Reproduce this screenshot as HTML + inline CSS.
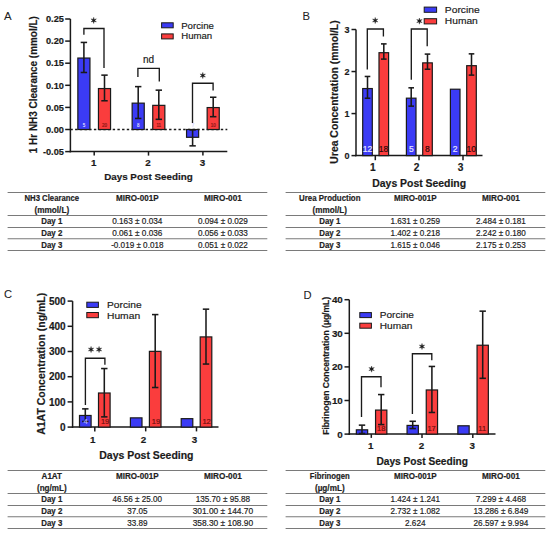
<!DOCTYPE html>
<html><head><meta charset="utf-8"><style>
html,body{margin:0;padding:0;background:#fff;}
body{width:550px;height:535px;overflow:hidden;}
svg{display:block;font-family:"Liberation Sans",sans-serif;}
</style></head><body>
<svg width="550" height="535" viewBox="0 0 550 535">
<rect width="550" height="535" fill="#fff"/>
<line x1="70.4" y1="19.0" x2="70.4" y2="152.35" stroke="#1a1a1a" stroke-width="1.5"/>
<line x1="69.65" y1="151.6" x2="227.3" y2="151.6" stroke="#1a1a1a" stroke-width="1.5"/>
<line x1="65.2" y1="19.0" x2="70.4" y2="19.0" stroke="#1a1a1a" stroke-width="1.5"/>
<text x="63.9" y="22.2" font-size="9.2" font-weight="bold" text-anchor="end" fill="#1a1a1a" stroke="#1a1a1a" stroke-width="0.18">0.25</text>
<line x1="65.2" y1="41.099999999999994" x2="70.4" y2="41.099999999999994" stroke="#1a1a1a" stroke-width="1.5"/>
<text x="63.9" y="44.3" font-size="9.2" font-weight="bold" text-anchor="end" fill="#1a1a1a" stroke="#1a1a1a" stroke-width="0.18">0.20</text>
<line x1="65.2" y1="63.2" x2="70.4" y2="63.2" stroke="#1a1a1a" stroke-width="1.5"/>
<text x="63.9" y="66.4" font-size="9.2" font-weight="bold" text-anchor="end" fill="#1a1a1a" stroke="#1a1a1a" stroke-width="0.18">0.15</text>
<line x1="65.2" y1="85.3" x2="70.4" y2="85.3" stroke="#1a1a1a" stroke-width="1.5"/>
<text x="63.9" y="88.5" font-size="9.2" font-weight="bold" text-anchor="end" fill="#1a1a1a" stroke="#1a1a1a" stroke-width="0.18">0.10</text>
<line x1="65.2" y1="107.4" x2="70.4" y2="107.4" stroke="#1a1a1a" stroke-width="1.5"/>
<text x="63.9" y="110.60000000000001" font-size="9.2" font-weight="bold" text-anchor="end" fill="#1a1a1a" stroke="#1a1a1a" stroke-width="0.18">0.05</text>
<line x1="65.2" y1="129.5" x2="70.4" y2="129.5" stroke="#1a1a1a" stroke-width="1.5"/>
<text x="63.9" y="132.7" font-size="9.2" font-weight="bold" text-anchor="end" fill="#1a1a1a" stroke="#1a1a1a" stroke-width="0.18">0.00</text>
<line x1="65.2" y1="151.6" x2="70.4" y2="151.6" stroke="#1a1a1a" stroke-width="1.5"/>
<text x="63.9" y="154.79999999999998" font-size="9.2" font-weight="bold" text-anchor="end" fill="#1a1a1a" stroke="#1a1a1a" stroke-width="0.18">-0.05</text>
<line x1="94.2" y1="151.6" x2="94.2" y2="155.6" stroke="#1a1a1a" stroke-width="1.5"/>
<text x="93.7" y="166.4" font-size="9.8" font-weight="bold" text-anchor="middle" fill="#1a1a1a" stroke="#1a1a1a" stroke-width="0.18">1</text>
<line x1="148.5" y1="151.6" x2="148.5" y2="155.6" stroke="#1a1a1a" stroke-width="1.5"/>
<text x="148.0" y="166.4" font-size="9.8" font-weight="bold" text-anchor="middle" fill="#1a1a1a" stroke="#1a1a1a" stroke-width="0.18">2</text>
<line x1="202.9" y1="151.6" x2="202.9" y2="155.6" stroke="#1a1a1a" stroke-width="1.5"/>
<text x="202.4" y="166.4" font-size="9.8" font-weight="bold" text-anchor="middle" fill="#1a1a1a" stroke="#1a1a1a" stroke-width="0.18">3</text>
<line x1="70.4" y1="129.5" x2="227.3" y2="129.5" stroke="#1a1a1a" stroke-width="1.3" stroke-dasharray="2.4 2.3"/>
<rect x="77.85" y="58.05" width="12.10" height="71.45" fill="#3b3bf5" stroke="#1a1a1a" stroke-width="1.2"/>
<line x1="83.9" y1="42.426" x2="83.9" y2="72.482" stroke="#1a1a1a" stroke-width="1.55"/>
<line x1="80.7" y1="42.426" x2="87.10000000000001" y2="42.426" stroke="#1a1a1a" stroke-width="1.55"/>
<line x1="80.7" y1="72.482" x2="87.10000000000001" y2="72.482" stroke="#1a1a1a" stroke-width="1.55"/>
<rect x="98.45" y="88.55" width="12.10" height="40.95" fill="#fa3d3d" stroke="#1a1a1a" stroke-width="1.2"/>
<line x1="104.5" y1="75.134" x2="104.5" y2="100.77" stroke="#1a1a1a" stroke-width="1.55"/>
<line x1="101.3" y1="75.134" x2="107.7" y2="75.134" stroke="#1a1a1a" stroke-width="1.55"/>
<line x1="101.3" y1="100.77" x2="107.7" y2="100.77" stroke="#1a1a1a" stroke-width="1.55"/>
<rect x="132.15" y="103.14" width="12.10" height="26.36" fill="#3b3bf5" stroke="#1a1a1a" stroke-width="1.2"/>
<line x1="138.2" y1="86.626" x2="138.2" y2="118.45" stroke="#1a1a1a" stroke-width="1.55"/>
<line x1="135.0" y1="86.626" x2="141.39999999999998" y2="86.626" stroke="#1a1a1a" stroke-width="1.55"/>
<line x1="135.0" y1="118.45" x2="141.39999999999998" y2="118.45" stroke="#1a1a1a" stroke-width="1.55"/>
<rect x="152.75" y="105.35" width="12.10" height="24.15" fill="#fa3d3d" stroke="#1a1a1a" stroke-width="1.2"/>
<line x1="158.8" y1="90.162" x2="158.8" y2="119.334" stroke="#1a1a1a" stroke-width="1.55"/>
<line x1="155.60000000000002" y1="90.162" x2="162.0" y2="90.162" stroke="#1a1a1a" stroke-width="1.55"/>
<line x1="155.60000000000002" y1="119.334" x2="162.0" y2="119.334" stroke="#1a1a1a" stroke-width="1.55"/>
<rect x="186.55" y="129.50" width="12.10" height="7.80" fill="#3b3bf5" stroke="#1a1a1a" stroke-width="1.2"/>
<line x1="192.6" y1="129.942" x2="192.6" y2="145.85399999999998" stroke="#1a1a1a" stroke-width="1.55"/>
<line x1="189.4" y1="129.942" x2="195.79999999999998" y2="129.942" stroke="#1a1a1a" stroke-width="1.55"/>
<line x1="189.4" y1="145.85399999999998" x2="195.79999999999998" y2="145.85399999999998" stroke="#1a1a1a" stroke-width="1.55"/>
<rect x="207.15" y="107.56" width="12.10" height="21.94" fill="#fa3d3d" stroke="#1a1a1a" stroke-width="1.2"/>
<line x1="213.20000000000002" y1="97.23400000000001" x2="213.20000000000002" y2="116.682" stroke="#1a1a1a" stroke-width="1.55"/>
<line x1="210.00000000000003" y1="97.23400000000001" x2="216.4" y2="97.23400000000001" stroke="#1a1a1a" stroke-width="1.55"/>
<line x1="210.00000000000003" y1="116.682" x2="216.4" y2="116.682" stroke="#1a1a1a" stroke-width="1.55"/>
<text x="83.9" y="127.0" font-size="4.5" font-weight="normal" text-anchor="middle" fill="#d8d8ff" stroke="#d8d8ff" stroke-width="0.18">5</text>
<text x="104.5" y="127.0" font-size="4.5" font-weight="normal" text-anchor="middle" fill="#8a1515" stroke="#8a1515" stroke-width="0.18">20</text>
<text x="138.2" y="127.0" font-size="4.5" font-weight="normal" text-anchor="middle" fill="#d8d8ff" stroke="#d8d8ff" stroke-width="0.18">8</text>
<text x="158.8" y="127.0" font-size="4.5" font-weight="normal" text-anchor="middle" fill="#8a1515" stroke="#8a1515" stroke-width="0.18">11</text>
<text x="193.1" y="127.0" font-size="4.5" font-weight="normal" text-anchor="middle" fill="#d8d8ff" stroke="#d8d8ff" stroke-width="0.18">7</text>
<text x="213.3" y="127.0" font-size="4.5" font-weight="normal" text-anchor="middle" fill="#8a1515" stroke="#8a1515" stroke-width="0.18">10</text>
<polyline points="83.9,34.8 83.9,28.5 104.0,28.5 104.0,68.0" fill="none" stroke="#1a1a1a" stroke-width="1.35"/>
<polyline points="137.9,76.9 137.9,68.4 159.3,68.4 159.3,81.4" fill="none" stroke="#1a1a1a" stroke-width="1.35"/>
<polyline points="192.5,122.9 192.5,83.2 213.1,83.2 213.1,90.4" fill="none" stroke="#1a1a1a" stroke-width="1.35"/>
<polygon points="93.70,17.30 93.12,19.40 91.02,18.85 92.55,20.40 91.02,21.95 93.12,21.40 93.70,23.50 94.28,21.40 96.38,21.95 94.85,20.40 96.38,18.85 94.28,19.40" fill="#1a1a1a" stroke="#1a1a1a" stroke-width="0.35" stroke-linejoin="round"/>
<text x="148.5" y="63.0" font-size="10" font-weight="normal" text-anchor="middle" fill="#1a1a1a" stroke="#1a1a1a" stroke-width="0.18">nd</text>
<polygon points="202.80,72.40 202.23,74.50 200.12,73.95 201.65,75.50 200.12,77.05 202.23,76.50 202.80,78.60 203.38,76.50 205.48,77.05 203.95,75.50 205.48,73.95 203.38,74.50" fill="#1a1a1a" stroke="#1a1a1a" stroke-width="0.35" stroke-linejoin="round"/>
<rect x="161.6" y="22.8" width="11.6" height="5.0" fill="#3b3bf5" stroke="#1a1a1a" stroke-width="1"/>
<text x="181.2" y="28.5" font-size="9.7" font-weight="normal" text-anchor="start" fill="#1a1a1a" textLength="32.7" lengthAdjust="spacingAndGlyphs" stroke="#1a1a1a" stroke-width="0.18">Porcine</text>
<rect x="161.6" y="33.9" width="11.6" height="5.0" fill="#fa3d3d" stroke="#1a1a1a" stroke-width="1"/>
<text x="181.2" y="39.1" font-size="9.7" font-weight="normal" text-anchor="start" fill="#1a1a1a" textLength="31.0" lengthAdjust="spacingAndGlyphs" stroke="#1a1a1a" stroke-width="0.18">Human</text>
<text x="148.4" y="179.7" font-size="9.8" font-weight="bold" text-anchor="middle" fill="#1a1a1a" textLength="88.5" lengthAdjust="spacingAndGlyphs" stroke="#1a1a1a" stroke-width="0.18">Days Post Seeding</text>
<text x="37.3" y="84.7" font-size="10.2" font-weight="bold" text-anchor="middle" fill="#1a1a1a" textLength="137.0" lengthAdjust="spacingAndGlyphs" transform="rotate(-90 37.3 84.7)" stroke="#1a1a1a" stroke-width="0.18">1 Hr NH3 Clearance (mmol/L)</text>
<text x="4.0" y="19.9" font-size="11.4" font-weight="normal" text-anchor="start" fill="#222" stroke="#222" stroke-width="0.05">A</text>
<line x1="356.0" y1="29.50999999999999" x2="356.0" y2="156.35" stroke="#1a1a1a" stroke-width="1.5"/>
<line x1="355.25" y1="155.6" x2="482.5" y2="155.6" stroke="#1a1a1a" stroke-width="1.5"/>
<line x1="351.5" y1="29.50999999999999" x2="356.0" y2="29.50999999999999" stroke="#1a1a1a" stroke-width="1.5"/>
<text x="349.5" y="32.709999999999994" font-size="9.0" font-weight="bold" text-anchor="end" fill="#1a1a1a" stroke="#1a1a1a" stroke-width="0.18">3</text>
<line x1="351.5" y1="71.53999999999999" x2="356.0" y2="71.53999999999999" stroke="#1a1a1a" stroke-width="1.5"/>
<text x="349.5" y="74.74" font-size="9.0" font-weight="bold" text-anchor="end" fill="#1a1a1a" stroke="#1a1a1a" stroke-width="0.18">2</text>
<line x1="351.5" y1="113.57" x2="356.0" y2="113.57" stroke="#1a1a1a" stroke-width="1.5"/>
<text x="349.5" y="116.77" font-size="9.0" font-weight="bold" text-anchor="end" fill="#1a1a1a" stroke="#1a1a1a" stroke-width="0.18">1</text>
<line x1="351.5" y1="155.6" x2="356.0" y2="155.6" stroke="#1a1a1a" stroke-width="1.5"/>
<text x="349.5" y="158.79999999999998" font-size="9.0" font-weight="bold" text-anchor="end" fill="#1a1a1a" stroke="#1a1a1a" stroke-width="0.18">0</text>
<line x1="375.3" y1="155.6" x2="375.3" y2="160.2" stroke="#1a1a1a" stroke-width="1.5"/>
<text x="372.90000000000003" y="171.4" font-size="10.2" font-weight="bold" text-anchor="middle" fill="#1a1a1a" stroke="#1a1a1a" stroke-width="0.18">1</text>
<line x1="419.0" y1="155.6" x2="419.0" y2="160.2" stroke="#1a1a1a" stroke-width="1.5"/>
<text x="416.6" y="171.4" font-size="10.2" font-weight="bold" text-anchor="middle" fill="#1a1a1a" stroke="#1a1a1a" stroke-width="0.18">2</text>
<line x1="463.0" y1="155.6" x2="463.0" y2="160.2" stroke="#1a1a1a" stroke-width="1.5"/>
<text x="460.6" y="171.4" font-size="10.2" font-weight="bold" text-anchor="middle" fill="#1a1a1a" stroke="#1a1a1a" stroke-width="0.18">3</text>
<rect x="362.70" y="88.55" width="9.60" height="67.05" fill="#3b3bf5" stroke="#1a1a1a" stroke-width="1.2"/>
<line x1="367.5" y1="76.46329999999999" x2="367.5" y2="98.23483999999999" stroke="#1a1a1a" stroke-width="1.55"/>
<line x1="364.7" y1="76.46329999999999" x2="370.3" y2="76.46329999999999" stroke="#1a1a1a" stroke-width="1.55"/>
<line x1="364.7" y1="98.23483999999999" x2="370.3" y2="98.23483999999999" stroke="#1a1a1a" stroke-width="1.55"/>
<rect x="379.00" y="52.70" width="9.60" height="102.90" fill="#fa3d3d" stroke="#1a1a1a" stroke-width="1.2"/>
<line x1="383.8" y1="43.89004999999999" x2="383.8" y2="59.10490999999999" stroke="#1a1a1a" stroke-width="1.55"/>
<line x1="381.0" y1="43.89004999999999" x2="386.6" y2="43.89004999999999" stroke="#1a1a1a" stroke-width="1.55"/>
<line x1="381.0" y1="59.10490999999999" x2="386.6" y2="59.10490999999999" stroke="#1a1a1a" stroke-width="1.55"/>
<rect x="406.40" y="98.17" width="9.60" height="57.43" fill="#3b3bf5" stroke="#1a1a1a" stroke-width="1.2"/>
<line x1="411.2" y1="87.81139999999999" x2="411.2" y2="106.13647999999999" stroke="#1a1a1a" stroke-width="1.55"/>
<line x1="408.4" y1="87.81139999999999" x2="414.0" y2="87.81139999999999" stroke="#1a1a1a" stroke-width="1.55"/>
<line x1="408.4" y1="106.13647999999999" x2="414.0" y2="106.13647999999999" stroke="#1a1a1a" stroke-width="1.55"/>
<rect x="422.70" y="62.87" width="9.60" height="92.73" fill="#fa3d3d" stroke="#1a1a1a" stroke-width="1.2"/>
<line x1="427.5" y1="54.10333999999999" x2="427.5" y2="69.23414" stroke="#1a1a1a" stroke-width="1.55"/>
<line x1="424.7" y1="54.10333999999999" x2="430.3" y2="54.10333999999999" stroke="#1a1a1a" stroke-width="1.55"/>
<line x1="424.7" y1="69.23414" x2="430.3" y2="69.23414" stroke="#1a1a1a" stroke-width="1.55"/>
<rect x="450.40" y="89.22" width="9.60" height="66.38" fill="#3b3bf5" stroke="#1a1a1a" stroke-width="1.2"/>
<rect x="466.70" y="65.68" width="9.60" height="89.92" fill="#fa3d3d" stroke="#1a1a1a" stroke-width="1.2"/>
<line x1="471.5" y1="53.85115999999999" x2="471.5" y2="75.11834" stroke="#1a1a1a" stroke-width="1.55"/>
<line x1="468.7" y1="53.85115999999999" x2="474.3" y2="53.85115999999999" stroke="#1a1a1a" stroke-width="1.55"/>
<line x1="468.7" y1="75.11834" x2="474.3" y2="75.11834" stroke="#1a1a1a" stroke-width="1.55"/>
<text x="367.4" y="151.8" font-size="8.5" font-weight="normal" text-anchor="middle" fill="#e6e6ff" stroke="#e6e6ff" stroke-width="0.18">12</text>
<text x="383.6" y="151.8" font-size="8.5" font-weight="normal" text-anchor="middle" fill="#2a0606" stroke="#2a0606" stroke-width="0.18">18</text>
<text x="411.3" y="151.8" font-size="8.5" font-weight="normal" text-anchor="middle" fill="#e6e6ff" stroke="#e6e6ff" stroke-width="0.18">5</text>
<text x="427.4" y="151.8" font-size="8.5" font-weight="normal" text-anchor="middle" fill="#2a0606" stroke="#2a0606" stroke-width="0.18">8</text>
<text x="455.0" y="151.8" font-size="8.5" font-weight="normal" text-anchor="middle" fill="#e6e6ff" stroke="#e6e6ff" stroke-width="0.18">2</text>
<text x="471.2" y="151.8" font-size="8.5" font-weight="normal" text-anchor="middle" fill="#2a0606" stroke="#2a0606" stroke-width="0.18">10</text>
<polyline points="367.3,69.4 367.3,29.0 383.4,29.0 383.4,36.5" fill="none" stroke="#1a1a1a" stroke-width="1.35"/>
<polyline points="411.3,79.8 411.3,29.0 427.2,29.0 427.2,46.3" fill="none" stroke="#1a1a1a" stroke-width="1.35"/>
<polygon points="375.20,17.40 374.62,19.50 372.52,18.95 374.05,20.50 372.52,22.05 374.62,21.50 375.20,23.60 375.77,21.50 377.88,22.05 376.35,20.50 377.88,18.95 375.77,19.50" fill="#1a1a1a" stroke="#1a1a1a" stroke-width="0.35" stroke-linejoin="round"/>
<polygon points="419.40,18.00 418.82,20.10 416.72,19.55 418.25,21.10 416.72,22.65 418.82,22.10 419.40,24.20 419.97,22.10 422.08,22.65 420.55,21.10 422.08,19.55 419.97,20.10" fill="#1a1a1a" stroke="#1a1a1a" stroke-width="0.35" stroke-linejoin="round"/>
<rect x="424.2" y="7.1" width="12.4" height="5.2" fill="#3b3bf5" stroke="#1a1a1a" stroke-width="1"/>
<text x="444.8" y="12.8" font-size="9.7" font-weight="normal" text-anchor="start" fill="#1a1a1a" textLength="34.9" lengthAdjust="spacingAndGlyphs" stroke="#1a1a1a" stroke-width="0.18">Porcine</text>
<rect x="424.2" y="18.7" width="12.4" height="5.2" fill="#fa3d3d" stroke="#1a1a1a" stroke-width="1"/>
<text x="444.8" y="24.0" font-size="9.7" font-weight="normal" text-anchor="start" fill="#1a1a1a" textLength="33.0" lengthAdjust="spacingAndGlyphs" stroke="#1a1a1a" stroke-width="0.18">Human</text>
<text x="419.2" y="187.1" font-size="10.4" font-weight="bold" text-anchor="middle" fill="#1a1a1a" textLength="93.8" lengthAdjust="spacingAndGlyphs" stroke="#1a1a1a" stroke-width="0.18">Days Post Seeding</text>
<text x="338.4" y="92.0" font-size="10.2" font-weight="bold" text-anchor="middle" fill="#1a1a1a" textLength="143.3" lengthAdjust="spacingAndGlyphs" transform="rotate(-90 338.4 92.0)" stroke="#1a1a1a" stroke-width="0.18">Urea Concentration (mmol/L)</text>
<text x="302.6" y="19.9" font-size="11.2" font-weight="normal" text-anchor="start" fill="#222" stroke="#222" stroke-width="0.05">B</text>
<line x1="72.6" y1="301.1" x2="72.6" y2="427.85" stroke="#1a1a1a" stroke-width="1.5"/>
<line x1="71.85" y1="427.1" x2="218.5" y2="427.1" stroke="#1a1a1a" stroke-width="1.5"/>
<line x1="67.6" y1="301.1" x2="72.6" y2="301.1" stroke="#1a1a1a" stroke-width="1.5"/>
<text x="65.6" y="304.70000000000005" font-size="10.0" font-weight="bold" text-anchor="end" fill="#1a1a1a" stroke="#1a1a1a" stroke-width="0.18">500</text>
<line x1="67.6" y1="326.3" x2="72.6" y2="326.3" stroke="#1a1a1a" stroke-width="1.5"/>
<text x="65.6" y="329.90000000000003" font-size="10.0" font-weight="bold" text-anchor="end" fill="#1a1a1a" stroke="#1a1a1a" stroke-width="0.18">400</text>
<line x1="67.6" y1="351.5" x2="72.6" y2="351.5" stroke="#1a1a1a" stroke-width="1.5"/>
<text x="65.6" y="355.1" font-size="10.0" font-weight="bold" text-anchor="end" fill="#1a1a1a" stroke="#1a1a1a" stroke-width="0.18">300</text>
<line x1="67.6" y1="376.70000000000005" x2="72.6" y2="376.70000000000005" stroke="#1a1a1a" stroke-width="1.5"/>
<text x="65.6" y="380.30000000000007" font-size="10.0" font-weight="bold" text-anchor="end" fill="#1a1a1a" stroke="#1a1a1a" stroke-width="0.18">200</text>
<line x1="67.6" y1="401.90000000000003" x2="72.6" y2="401.90000000000003" stroke="#1a1a1a" stroke-width="1.5"/>
<text x="65.6" y="405.50000000000006" font-size="10.0" font-weight="bold" text-anchor="end" fill="#1a1a1a" stroke="#1a1a1a" stroke-width="0.18">100</text>
<line x1="67.6" y1="427.1" x2="72.6" y2="427.1" stroke="#1a1a1a" stroke-width="1.5"/>
<text x="65.6" y="430.70000000000005" font-size="10.0" font-weight="bold" text-anchor="end" fill="#1a1a1a" stroke="#1a1a1a" stroke-width="0.18">0</text>
<line x1="94.8" y1="427.1" x2="94.8" y2="431.40000000000003" stroke="#1a1a1a" stroke-width="1.5"/>
<text x="92.7" y="442.9" font-size="9.8" font-weight="bold" text-anchor="middle" fill="#1a1a1a" stroke="#1a1a1a" stroke-width="0.18">1</text>
<line x1="145.7" y1="427.1" x2="145.7" y2="431.40000000000003" stroke="#1a1a1a" stroke-width="1.5"/>
<text x="143.6" y="442.9" font-size="9.8" font-weight="bold" text-anchor="middle" fill="#1a1a1a" stroke="#1a1a1a" stroke-width="0.18">2</text>
<line x1="196.5" y1="427.1" x2="196.5" y2="431.40000000000003" stroke="#1a1a1a" stroke-width="1.5"/>
<text x="194.4" y="442.9" font-size="9.8" font-weight="bold" text-anchor="middle" fill="#1a1a1a" stroke="#1a1a1a" stroke-width="0.18">3</text>
<rect x="79.50" y="415.47" width="11.60" height="11.63" fill="#3b3bf5" stroke="#1a1a1a" stroke-width="1.2"/>
<line x1="85.3" y1="408.86688000000004" x2="85.3" y2="421.46688000000006" stroke="#1a1a1a" stroke-width="1.55"/>
<line x1="82.1" y1="408.86688000000004" x2="88.5" y2="408.86688000000004" stroke="#1a1a1a" stroke-width="1.55"/>
<line x1="82.1" y1="421.46688000000006" x2="88.5" y2="421.46688000000006" stroke="#1a1a1a" stroke-width="1.55"/>
<rect x="98.50" y="393.00" width="11.60" height="34.10" fill="#fa3d3d" stroke="#1a1a1a" stroke-width="1.2"/>
<line x1="104.3" y1="368.54184000000004" x2="104.3" y2="416.86536" stroke="#1a1a1a" stroke-width="1.55"/>
<line x1="101.1" y1="368.54184000000004" x2="107.5" y2="368.54184000000004" stroke="#1a1a1a" stroke-width="1.55"/>
<line x1="101.1" y1="416.86536" x2="107.5" y2="416.86536" stroke="#1a1a1a" stroke-width="1.55"/>
<rect x="130.40" y="417.86" width="11.60" height="9.24" fill="#3b3bf5" stroke="#1a1a1a" stroke-width="1.2"/>
<rect x="149.40" y="351.35" width="11.60" height="75.75" fill="#fa3d3d" stroke="#1a1a1a" stroke-width="1.2"/>
<line x1="155.2" y1="314.58360000000005" x2="155.2" y2="387.5124" stroke="#1a1a1a" stroke-width="1.55"/>
<line x1="152.0" y1="314.58360000000005" x2="158.39999999999998" y2="314.58360000000005" stroke="#1a1a1a" stroke-width="1.55"/>
<line x1="152.0" y1="387.5124" x2="158.39999999999998" y2="387.5124" stroke="#1a1a1a" stroke-width="1.55"/>
<rect x="181.20" y="418.66" width="11.60" height="8.44" fill="#3b3bf5" stroke="#1a1a1a" stroke-width="1.2"/>
<rect x="200.20" y="336.91" width="11.60" height="90.19" fill="#fa3d3d" stroke="#1a1a1a" stroke-width="1.2"/>
<line x1="206.0" y1="309.16560000000004" x2="206.0" y2="364.05120000000005" stroke="#1a1a1a" stroke-width="1.55"/>
<line x1="202.8" y1="309.16560000000004" x2="209.2" y2="309.16560000000004" stroke="#1a1a1a" stroke-width="1.55"/>
<line x1="202.8" y1="364.05120000000005" x2="209.2" y2="364.05120000000005" stroke="#1a1a1a" stroke-width="1.55"/>
<text x="85.7" y="424.0" font-size="7.5" font-weight="normal" text-anchor="middle" fill="#b0b0ff" stroke="#b0b0ff" stroke-width="0.18">4</text>
<text x="105.1" y="424.0" font-size="7.5" font-weight="normal" text-anchor="middle" fill="#6a1010" stroke="#6a1010" stroke-width="0.18">19</text>
<text x="155.9" y="424.0" font-size="7.5" font-weight="normal" text-anchor="middle" fill="#6a1010" stroke="#6a1010" stroke-width="0.18">19</text>
<text x="206.6" y="424.0" font-size="7.5" font-weight="normal" text-anchor="middle" fill="#6a1010" stroke="#6a1010" stroke-width="0.18">12</text>
<polyline points="85.4,405.0 85.4,358.2 104.9,358.2 104.9,364.8" fill="none" stroke="#1a1a1a" stroke-width="1.35"/>
<polygon points="91.05,346.40 90.47,348.50 88.37,347.95 89.90,349.50 88.37,351.05 90.47,350.50 91.05,352.60 91.62,350.50 93.73,351.05 92.20,349.50 93.73,347.95 91.62,348.50" fill="#1a1a1a" stroke="#1a1a1a" stroke-width="0.35" stroke-linejoin="round"/>
<polygon points="99.05,346.40 98.47,348.50 96.37,347.95 97.90,349.50 96.37,351.05 98.47,350.50 99.05,352.60 99.62,350.50 101.73,351.05 100.20,349.50 101.73,347.95 99.62,348.50" fill="#1a1a1a" stroke="#1a1a1a" stroke-width="0.35" stroke-linejoin="round"/>
<rect x="86.8" y="302.2" width="11.6" height="5.2" fill="#3b3bf5" stroke="#1a1a1a" stroke-width="1"/>
<text x="107.0" y="308.1" font-size="9.6" font-weight="normal" text-anchor="start" fill="#1a1a1a" textLength="34.6" lengthAdjust="spacingAndGlyphs" stroke="#1a1a1a" stroke-width="0.18">Porcine</text>
<rect x="86.8" y="312.5" width="11.6" height="5.2" fill="#fa3d3d" stroke="#1a1a1a" stroke-width="1"/>
<text x="107.0" y="318.6" font-size="9.6" font-weight="normal" text-anchor="start" fill="#1a1a1a" textLength="33.1" lengthAdjust="spacingAndGlyphs" stroke="#1a1a1a" stroke-width="0.18">Human</text>
<text x="146.4" y="459.0" font-size="10.2" font-weight="bold" text-anchor="middle" fill="#1a1a1a" textLength="94.2" lengthAdjust="spacingAndGlyphs" stroke="#1a1a1a" stroke-width="0.18">Days Post Seeding</text>
<text x="44.9" y="363.8" font-size="10.5" font-weight="bold" text-anchor="middle" fill="#1a1a1a" textLength="142.0" lengthAdjust="spacingAndGlyphs" transform="rotate(-90 44.9 363.8)" stroke="#1a1a1a" stroke-width="0.18">A1AT Concentration (ng/mL)</text>
<text x="4.0" y="297.9" font-size="11.2" font-weight="normal" text-anchor="start" fill="#222" stroke="#222" stroke-width="0.05">C</text>
<line x1="349.3" y1="299.70000000000005" x2="349.3" y2="434.85" stroke="#1a1a1a" stroke-width="1.5"/>
<line x1="348.55" y1="434.1" x2="495.5" y2="434.1" stroke="#1a1a1a" stroke-width="1.5"/>
<line x1="344.5" y1="299.70000000000005" x2="349.3" y2="299.70000000000005" stroke="#1a1a1a" stroke-width="1.5"/>
<text x="342.8" y="303.1" font-size="9.8" font-weight="bold" text-anchor="end" fill="#1a1a1a" stroke="#1a1a1a" stroke-width="0.18">40</text>
<line x1="344.5" y1="333.3" x2="349.3" y2="333.3" stroke="#1a1a1a" stroke-width="1.5"/>
<text x="342.8" y="336.7" font-size="9.8" font-weight="bold" text-anchor="end" fill="#1a1a1a" stroke="#1a1a1a" stroke-width="0.18">30</text>
<line x1="344.5" y1="366.90000000000003" x2="349.3" y2="366.90000000000003" stroke="#1a1a1a" stroke-width="1.5"/>
<text x="342.8" y="370.3" font-size="9.8" font-weight="bold" text-anchor="end" fill="#1a1a1a" stroke="#1a1a1a" stroke-width="0.18">20</text>
<line x1="344.5" y1="400.5" x2="349.3" y2="400.5" stroke="#1a1a1a" stroke-width="1.5"/>
<text x="342.8" y="403.9" font-size="9.8" font-weight="bold" text-anchor="end" fill="#1a1a1a" stroke="#1a1a1a" stroke-width="0.18">10</text>
<line x1="344.5" y1="434.1" x2="349.3" y2="434.1" stroke="#1a1a1a" stroke-width="1.5"/>
<text x="342.8" y="437.5" font-size="9.8" font-weight="bold" text-anchor="end" fill="#1a1a1a" stroke="#1a1a1a" stroke-width="0.18">0</text>
<line x1="371.3" y1="434.1" x2="371.3" y2="437.90000000000003" stroke="#1a1a1a" stroke-width="1.5"/>
<text x="370.8" y="449.4" font-size="9.8" font-weight="bold" text-anchor="middle" fill="#1a1a1a" stroke="#1a1a1a" stroke-width="0.18">1</text>
<line x1="422.0" y1="434.1" x2="422.0" y2="437.90000000000003" stroke="#1a1a1a" stroke-width="1.5"/>
<text x="421.5" y="449.4" font-size="9.8" font-weight="bold" text-anchor="middle" fill="#1a1a1a" stroke="#1a1a1a" stroke-width="0.18">2</text>
<line x1="472.8" y1="434.1" x2="472.8" y2="437.90000000000003" stroke="#1a1a1a" stroke-width="1.5"/>
<text x="472.3" y="449.4" font-size="9.8" font-weight="bold" text-anchor="middle" fill="#1a1a1a" stroke="#1a1a1a" stroke-width="0.18">3</text>
<rect x="356.35" y="429.82" width="11.30" height="4.28" fill="#3b3bf5" stroke="#1a1a1a" stroke-width="1.2"/>
<line x1="362.0" y1="425.1456" x2="362.0" y2="433.48512000000005" stroke="#1a1a1a" stroke-width="1.55"/>
<line x1="358.8" y1="425.1456" x2="365.2" y2="425.1456" stroke="#1a1a1a" stroke-width="1.55"/>
<line x1="358.8" y1="433.48512000000005" x2="365.2" y2="433.48512000000005" stroke="#1a1a1a" stroke-width="1.55"/>
<rect x="375.55" y="410.08" width="11.30" height="24.02" fill="#fa3d3d" stroke="#1a1a1a" stroke-width="1.2"/>
<line x1="381.2" y1="394.56288" x2="381.2" y2="424.58784" stroke="#1a1a1a" stroke-width="1.55"/>
<line x1="378.0" y1="394.56288" x2="384.4" y2="394.56288" stroke="#1a1a1a" stroke-width="1.55"/>
<line x1="378.0" y1="424.58784" x2="384.4" y2="424.58784" stroke="#1a1a1a" stroke-width="1.55"/>
<rect x="407.05" y="425.42" width="11.30" height="8.68" fill="#3b3bf5" stroke="#1a1a1a" stroke-width="1.2"/>
<line x1="412.7" y1="421.28496" x2="412.7" y2="428.55600000000004" stroke="#1a1a1a" stroke-width="1.55"/>
<line x1="409.5" y1="421.28496" x2="415.9" y2="421.28496" stroke="#1a1a1a" stroke-width="1.55"/>
<line x1="409.5" y1="428.55600000000004" x2="415.9" y2="428.55600000000004" stroke="#1a1a1a" stroke-width="1.55"/>
<rect x="426.25" y="389.96" width="11.30" height="44.14" fill="#fa3d3d" stroke="#1a1a1a" stroke-width="1.2"/>
<line x1="431.9" y1="366.44640000000004" x2="431.9" y2="412.47168000000005" stroke="#1a1a1a" stroke-width="1.55"/>
<line x1="428.7" y1="366.44640000000004" x2="435.09999999999997" y2="366.44640000000004" stroke="#1a1a1a" stroke-width="1.55"/>
<line x1="428.7" y1="412.47168000000005" x2="435.09999999999997" y2="412.47168000000005" stroke="#1a1a1a" stroke-width="1.55"/>
<rect x="457.85" y="425.78" width="11.30" height="8.32" fill="#3b3bf5" stroke="#1a1a1a" stroke-width="1.2"/>
<rect x="477.05" y="345.23" width="11.30" height="88.87" fill="#fa3d3d" stroke="#1a1a1a" stroke-width="1.2"/>
<line x1="482.7" y1="311.15424" x2="482.7" y2="378.31392" stroke="#1a1a1a" stroke-width="1.55"/>
<line x1="479.5" y1="311.15424" x2="485.9" y2="311.15424" stroke="#1a1a1a" stroke-width="1.55"/>
<line x1="479.5" y1="378.31392" x2="485.9" y2="378.31392" stroke="#1a1a1a" stroke-width="1.55"/>
<text x="381.2" y="430.5" font-size="7.5" font-weight="normal" text-anchor="middle" fill="#6a1010" stroke="#6a1010" stroke-width="0.18">18</text>
<text x="431.6" y="430.5" font-size="7.5" font-weight="normal" text-anchor="middle" fill="#6a1010" stroke="#6a1010" stroke-width="0.18">17</text>
<text x="482.2" y="430.5" font-size="7.5" font-weight="normal" text-anchor="middle" fill="#6a1010" stroke="#6a1010" stroke-width="0.18">11</text>
<polyline points="361.5,417.1 361.5,376.7 381.0,376.7 381.0,387.2" fill="none" stroke="#1a1a1a" stroke-width="1.35"/>
<polyline points="412.4,414.1 412.4,353.7 431.8,353.7 431.8,360.3" fill="none" stroke="#1a1a1a" stroke-width="1.35"/>
<polygon points="371.60,366.00 371.03,368.10 368.92,367.55 370.45,369.10 368.92,370.65 371.03,370.10 371.60,372.20 372.18,370.10 374.28,370.65 372.75,369.10 374.28,367.55 372.18,368.10" fill="#1a1a1a" stroke="#1a1a1a" stroke-width="0.35" stroke-linejoin="round"/>
<polygon points="422.00,343.40 421.43,345.50 419.32,344.95 420.85,346.50 419.32,348.05 421.43,347.50 422.00,349.60 422.57,347.50 424.68,348.05 423.15,346.50 424.68,344.95 422.57,345.50" fill="#1a1a1a" stroke="#1a1a1a" stroke-width="0.35" stroke-linejoin="round"/>
<rect x="359.8" y="312.6" width="11.6" height="5.0" fill="#3b3bf5" stroke="#1a1a1a" stroke-width="1"/>
<text x="379.8" y="318.3" font-size="9.4" font-weight="normal" text-anchor="start" fill="#1a1a1a" textLength="34.1" lengthAdjust="spacingAndGlyphs" stroke="#1a1a1a" stroke-width="0.18">Porcine</text>
<rect x="359.8" y="323.2" width="11.6" height="5.0" fill="#fa3d3d" stroke="#1a1a1a" stroke-width="1"/>
<text x="379.8" y="328.8" font-size="9.4" font-weight="normal" text-anchor="start" fill="#1a1a1a" textLength="32.6" lengthAdjust="spacingAndGlyphs" stroke="#1a1a1a" stroke-width="0.18">Human</text>
<text x="422.2" y="464.6" font-size="10.0" font-weight="bold" text-anchor="middle" fill="#1a1a1a" textLength="91.6" lengthAdjust="spacingAndGlyphs" stroke="#1a1a1a" stroke-width="0.18">Days Post Seeding</text>
<text x="328.7" y="365.8" font-size="8.8" font-weight="bold" text-anchor="middle" fill="#1a1a1a" textLength="138.0" lengthAdjust="spacingAndGlyphs" transform="rotate(-90 328.7 365.8)" stroke="#1a1a1a" stroke-width="0.18">Fibrinogen Concentration (&#181;g/mL)</text>
<text x="303.6" y="298.8" font-size="11.2" font-weight="normal" text-anchor="start" fill="#222" stroke="#222" stroke-width="0.05">D</text>
<line x1="7.6" y1="192.5" x2="267.3" y2="192.5" stroke="#7a7a7a" stroke-width="1.1"/>
<line x1="7.6" y1="215.5" x2="267.3" y2="215.5" stroke="#7a7a7a" stroke-width="1.1"/>
<line x1="7.6" y1="227.5" x2="267.3" y2="227.5" stroke="#7a7a7a" stroke-width="1.1"/>
<line x1="7.6" y1="238.8" x2="267.3" y2="238.8" stroke="#7a7a7a" stroke-width="1.1"/>
<line x1="7.6" y1="250.5" x2="267.3" y2="250.5" stroke="#7a7a7a" stroke-width="1.1"/>
<text x="51.8" y="201.2" font-size="8.2" font-weight="bold" text-anchor="middle" fill="#222" textLength="54.7" lengthAdjust="spacingAndGlyphs" stroke="#222" stroke-width="0.18">NH3 Clearance</text>
<text x="51.8" y="212.6" font-size="8.2" font-weight="bold" text-anchor="middle" fill="#222" textLength="34.8" lengthAdjust="spacingAndGlyphs" stroke="#222" stroke-width="0.18">(mmol/L)</text>
<text x="137.3" y="201.2" font-size="8.2" font-weight="bold" text-anchor="middle" fill="#222" textLength="42.5" lengthAdjust="spacingAndGlyphs" stroke="#222" stroke-width="0.18">MIRO-001P</text>
<text x="222.9" y="201.2" font-size="8.2" font-weight="bold" text-anchor="middle" fill="#222" textLength="37.8" lengthAdjust="spacingAndGlyphs" stroke="#222" stroke-width="0.18">MIRO-001</text>
<text x="51.8" y="224.2" font-size="8.2" font-weight="bold" text-anchor="middle" fill="#222" textLength="21" lengthAdjust="spacingAndGlyphs" stroke="#222" stroke-width="0.18">Day 1</text>
<text x="137.3" y="224.2" font-size="8.2" font-weight="normal" text-anchor="middle" fill="#222" textLength="50.2" lengthAdjust="spacingAndGlyphs" stroke="#222" stroke-width="0.18">0.163 &#177; 0.034</text>
<text x="222.9" y="224.2" font-size="8.2" font-weight="normal" text-anchor="middle" fill="#222" textLength="49.9" lengthAdjust="spacingAndGlyphs" stroke="#222" stroke-width="0.18">0.094 &#177; 0.029</text>
<text x="51.8" y="235.9" font-size="8.2" font-weight="bold" text-anchor="middle" fill="#222" textLength="21" lengthAdjust="spacingAndGlyphs" stroke="#222" stroke-width="0.18">Day 2</text>
<text x="137.3" y="235.9" font-size="8.2" font-weight="normal" text-anchor="middle" fill="#222" textLength="50.2" lengthAdjust="spacingAndGlyphs" stroke="#222" stroke-width="0.18">0.061 &#177; 0.036</text>
<text x="222.9" y="235.9" font-size="8.2" font-weight="normal" text-anchor="middle" fill="#222" textLength="49.9" lengthAdjust="spacingAndGlyphs" stroke="#222" stroke-width="0.18">0.056 &#177; 0.033</text>
<text x="51.8" y="247.6" font-size="8.2" font-weight="bold" text-anchor="middle" fill="#222" textLength="21" lengthAdjust="spacingAndGlyphs" stroke="#222" stroke-width="0.18">Day 3</text>
<text x="137.3" y="247.6" font-size="8.2" font-weight="normal" text-anchor="middle" fill="#222" textLength="52.3" lengthAdjust="spacingAndGlyphs" stroke="#222" stroke-width="0.18">-0.019 &#177; 0.018</text>
<text x="222.9" y="247.6" font-size="8.2" font-weight="normal" text-anchor="middle" fill="#222" textLength="49.9" lengthAdjust="spacingAndGlyphs" stroke="#222" stroke-width="0.18">0.051 &#177; 0.022</text>
<line x1="285.6" y1="192.5" x2="545.3" y2="192.5" stroke="#7a7a7a" stroke-width="1.1"/>
<line x1="285.6" y1="215.5" x2="545.3" y2="215.5" stroke="#7a7a7a" stroke-width="1.1"/>
<line x1="285.6" y1="227.5" x2="545.3" y2="227.5" stroke="#7a7a7a" stroke-width="1.1"/>
<line x1="285.6" y1="238.8" x2="545.3" y2="238.8" stroke="#7a7a7a" stroke-width="1.1"/>
<line x1="285.6" y1="250.5" x2="545.3" y2="250.5" stroke="#7a7a7a" stroke-width="1.1"/>
<text x="329.8" y="201.2" font-size="8.2" font-weight="bold" text-anchor="middle" fill="#222" textLength="61.4" lengthAdjust="spacingAndGlyphs" stroke="#222" stroke-width="0.18">Urea Production</text>
<text x="329.8" y="212.6" font-size="8.2" font-weight="bold" text-anchor="middle" fill="#222" textLength="34.4" lengthAdjust="spacingAndGlyphs" stroke="#222" stroke-width="0.18">(mmol/L)</text>
<text x="415.3" y="201.2" font-size="8.2" font-weight="bold" text-anchor="middle" fill="#222" textLength="42.5" lengthAdjust="spacingAndGlyphs" stroke="#222" stroke-width="0.18">MIRO-001P</text>
<text x="500.9" y="201.2" font-size="8.2" font-weight="bold" text-anchor="middle" fill="#222" textLength="37.8" lengthAdjust="spacingAndGlyphs" stroke="#222" stroke-width="0.18">MIRO-001</text>
<text x="329.8" y="224.2" font-size="8.2" font-weight="bold" text-anchor="middle" fill="#222" textLength="21" lengthAdjust="spacingAndGlyphs" stroke="#222" stroke-width="0.18">Day 1</text>
<text x="415.3" y="224.2" font-size="8.2" font-weight="normal" text-anchor="middle" fill="#222" textLength="49.6" lengthAdjust="spacingAndGlyphs" stroke="#222" stroke-width="0.18">1.631 &#177; 0.259</text>
<text x="500.9" y="224.2" font-size="8.2" font-weight="normal" text-anchor="middle" fill="#222" textLength="49.6" lengthAdjust="spacingAndGlyphs" stroke="#222" stroke-width="0.18">2.484 &#177; 0.181</text>
<text x="329.8" y="235.9" font-size="8.2" font-weight="bold" text-anchor="middle" fill="#222" textLength="21" lengthAdjust="spacingAndGlyphs" stroke="#222" stroke-width="0.18">Day 2</text>
<text x="415.3" y="235.9" font-size="8.2" font-weight="normal" text-anchor="middle" fill="#222" textLength="49.6" lengthAdjust="spacingAndGlyphs" stroke="#222" stroke-width="0.18">1.402 &#177; 0.218</text>
<text x="500.9" y="235.9" font-size="8.2" font-weight="normal" text-anchor="middle" fill="#222" textLength="49.6" lengthAdjust="spacingAndGlyphs" stroke="#222" stroke-width="0.18">2.242 &#177; 0.180</text>
<text x="329.8" y="247.6" font-size="8.2" font-weight="bold" text-anchor="middle" fill="#222" textLength="21" lengthAdjust="spacingAndGlyphs" stroke="#222" stroke-width="0.18">Day 3</text>
<text x="415.3" y="247.6" font-size="8.2" font-weight="normal" text-anchor="middle" fill="#222" textLength="49.6" lengthAdjust="spacingAndGlyphs" stroke="#222" stroke-width="0.18">1.615 &#177; 0.046</text>
<text x="500.9" y="247.6" font-size="8.2" font-weight="normal" text-anchor="middle" fill="#222" textLength="49.6" lengthAdjust="spacingAndGlyphs" stroke="#222" stroke-width="0.18">2.175 &#177; 0.253</text>
<line x1="7.6" y1="470.5" x2="267.3" y2="470.5" stroke="#7a7a7a" stroke-width="1.1"/>
<line x1="7.6" y1="493.5" x2="267.3" y2="493.5" stroke="#7a7a7a" stroke-width="1.1"/>
<line x1="7.6" y1="505.5" x2="267.3" y2="505.5" stroke="#7a7a7a" stroke-width="1.1"/>
<line x1="7.6" y1="516.8" x2="267.3" y2="516.8" stroke="#7a7a7a" stroke-width="1.1"/>
<line x1="7.6" y1="528.5" x2="267.3" y2="528.5" stroke="#7a7a7a" stroke-width="1.1"/>
<text x="51.8" y="479.2" font-size="8.2" font-weight="bold" text-anchor="middle" fill="#222" textLength="20.4" lengthAdjust="spacingAndGlyphs" stroke="#222" stroke-width="0.18">A1AT</text>
<text x="51.8" y="490.6" font-size="8.2" font-weight="bold" text-anchor="middle" fill="#222" textLength="29.7" lengthAdjust="spacingAndGlyphs" stroke="#222" stroke-width="0.18">(ng/mL)</text>
<text x="137.3" y="479.2" font-size="8.2" font-weight="bold" text-anchor="middle" fill="#222" textLength="42.5" lengthAdjust="spacingAndGlyphs" stroke="#222" stroke-width="0.18">MIRO-001P</text>
<text x="222.9" y="479.2" font-size="8.2" font-weight="bold" text-anchor="middle" fill="#222" textLength="37.8" lengthAdjust="spacingAndGlyphs" stroke="#222" stroke-width="0.18">MIRO-001</text>
<text x="51.8" y="502.2" font-size="8.2" font-weight="bold" text-anchor="middle" fill="#222" textLength="21" lengthAdjust="spacingAndGlyphs" stroke="#222" stroke-width="0.18">Day 1</text>
<text x="137.3" y="502.2" font-size="8.2" font-weight="normal" text-anchor="middle" fill="#222" textLength="49.4" lengthAdjust="spacingAndGlyphs" stroke="#222" stroke-width="0.18">46.56 &#177; 25.00</text>
<text x="222.9" y="502.2" font-size="8.2" font-weight="normal" text-anchor="middle" fill="#222" textLength="54.4" lengthAdjust="spacingAndGlyphs" stroke="#222" stroke-width="0.18">135.70 &#177; 95.88</text>
<text x="51.8" y="513.9" font-size="8.2" font-weight="bold" text-anchor="middle" fill="#222" textLength="21" lengthAdjust="spacingAndGlyphs" stroke="#222" stroke-width="0.18">Day 2</text>
<text x="137.3" y="513.9" font-size="8.2" font-weight="normal" text-anchor="middle" fill="#222" textLength="20.2" lengthAdjust="spacingAndGlyphs" stroke="#222" stroke-width="0.18">37.05</text>
<text x="222.9" y="513.9" font-size="8.2" font-weight="normal" text-anchor="middle" fill="#222" textLength="60.5" lengthAdjust="spacingAndGlyphs" stroke="#222" stroke-width="0.18">301.00 &#177; 144.70</text>
<text x="51.8" y="525.6" font-size="8.2" font-weight="bold" text-anchor="middle" fill="#222" textLength="21" lengthAdjust="spacingAndGlyphs" stroke="#222" stroke-width="0.18">Day 3</text>
<text x="137.3" y="525.6" font-size="8.2" font-weight="normal" text-anchor="middle" fill="#222" textLength="20.2" lengthAdjust="spacingAndGlyphs" stroke="#222" stroke-width="0.18">33.89</text>
<text x="222.9" y="525.6" font-size="8.2" font-weight="normal" text-anchor="middle" fill="#222" textLength="60.5" lengthAdjust="spacingAndGlyphs" stroke="#222" stroke-width="0.18">358.30 &#177; 108.90</text>
<line x1="285.6" y1="470.5" x2="545.3" y2="470.5" stroke="#7a7a7a" stroke-width="1.1"/>
<line x1="285.6" y1="493.5" x2="545.3" y2="493.5" stroke="#7a7a7a" stroke-width="1.1"/>
<line x1="285.6" y1="505.5" x2="545.3" y2="505.5" stroke="#7a7a7a" stroke-width="1.1"/>
<line x1="285.6" y1="516.8" x2="545.3" y2="516.8" stroke="#7a7a7a" stroke-width="1.1"/>
<line x1="285.6" y1="528.5" x2="545.3" y2="528.5" stroke="#7a7a7a" stroke-width="1.1"/>
<text x="329.8" y="479.2" font-size="8.2" font-weight="bold" text-anchor="middle" fill="#222" textLength="40.0" lengthAdjust="spacingAndGlyphs" stroke="#222" stroke-width="0.18">Fibrinogen</text>
<text x="329.8" y="490.6" font-size="8.2" font-weight="bold" text-anchor="middle" fill="#222" textLength="29.7" lengthAdjust="spacingAndGlyphs" stroke="#222" stroke-width="0.18">(&#181;g/mL)</text>
<text x="415.3" y="479.2" font-size="8.2" font-weight="bold" text-anchor="middle" fill="#222" textLength="42.5" lengthAdjust="spacingAndGlyphs" stroke="#222" stroke-width="0.18">MIRO-001P</text>
<text x="500.9" y="479.2" font-size="8.2" font-weight="bold" text-anchor="middle" fill="#222" textLength="37.8" lengthAdjust="spacingAndGlyphs" stroke="#222" stroke-width="0.18">MIRO-001</text>
<text x="329.8" y="502.2" font-size="8.2" font-weight="bold" text-anchor="middle" fill="#222" textLength="21" lengthAdjust="spacingAndGlyphs" stroke="#222" stroke-width="0.18">Day 1</text>
<text x="415.3" y="502.2" font-size="8.2" font-weight="normal" text-anchor="middle" fill="#222" textLength="49.5" lengthAdjust="spacingAndGlyphs" stroke="#222" stroke-width="0.18">1.424 &#177; 1.241</text>
<text x="500.9" y="502.2" font-size="8.2" font-weight="normal" text-anchor="middle" fill="#222" textLength="50.5" lengthAdjust="spacingAndGlyphs" stroke="#222" stroke-width="0.18">7.299 &#177; 4.468</text>
<text x="329.8" y="513.9" font-size="8.2" font-weight="bold" text-anchor="middle" fill="#222" textLength="21" lengthAdjust="spacingAndGlyphs" stroke="#222" stroke-width="0.18">Day 2</text>
<text x="415.3" y="513.9" font-size="8.2" font-weight="normal" text-anchor="middle" fill="#222" textLength="49.5" lengthAdjust="spacingAndGlyphs" stroke="#222" stroke-width="0.18">2.732 &#177; 1.082</text>
<text x="500.9" y="513.9" font-size="8.2" font-weight="normal" text-anchor="middle" fill="#222" textLength="54.8" lengthAdjust="spacingAndGlyphs" stroke="#222" stroke-width="0.18">13.286 &#177; 6.849</text>
<text x="329.8" y="525.6" font-size="8.2" font-weight="bold" text-anchor="middle" fill="#222" textLength="21" lengthAdjust="spacingAndGlyphs" stroke="#222" stroke-width="0.18">Day 3</text>
<text x="415.3" y="525.6" font-size="8.2" font-weight="normal" text-anchor="middle" fill="#222" textLength="20.6" lengthAdjust="spacingAndGlyphs" stroke="#222" stroke-width="0.18">2.624</text>
<text x="500.9" y="525.6" font-size="8.2" font-weight="normal" text-anchor="middle" fill="#222" textLength="54.8" lengthAdjust="spacingAndGlyphs" stroke="#222" stroke-width="0.18">26.597 &#177; 9.994</text>
</svg>
</body></html>
